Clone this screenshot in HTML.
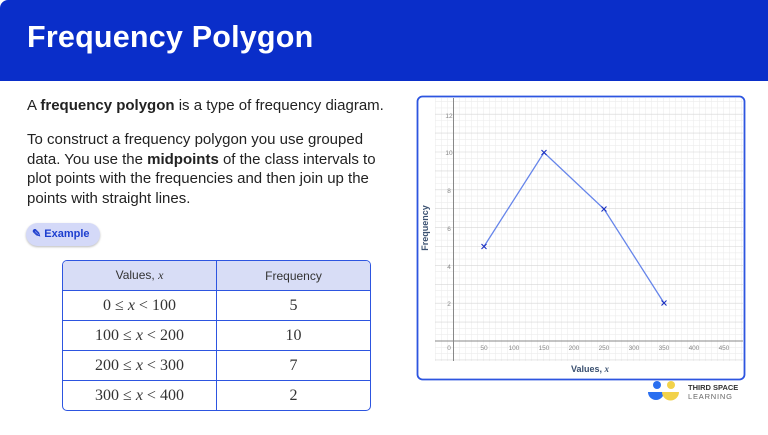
<!DOCTYPE html>
<html><head><meta charset="utf-8"><style>
body{margin:0;width:768px;height:435px;background:#fff;position:relative;overflow:hidden;font-family:"Liberation Sans",sans-serif;color:#222}
.hdr{position:absolute;left:0;top:0;width:768px;height:81px;background:#0a2ec9;border-top-left-radius:8px}
.hdr h1{position:absolute;left:27px;top:20px;margin:0;color:#fff;font-size:30.5px;font-weight:bold;letter-spacing:0.2px}
.p{position:absolute;left:27px;font-size:15px;line-height:19.5px;color:#222;width:362px}
.ex{position:absolute;left:26px;top:223px;width:74px;height:23px;background:#d4d9f8;border-radius:12px;color:#1e3fcf;font-size:11px;font-weight:bold;line-height:23px;box-shadow:0 1px 2px #bbb}
table{position:absolute;left:62px;top:260px;border-collapse:separate;border-spacing:0;border:1.5px solid #2d55e0;border-radius:5px;overflow:hidden}
td{height:29px;padding:0;text-align:center;border-right:1px solid #2d55e0;border-bottom:1px solid #2d55e0;font-family:"Liberation Serif",serif;font-size:16px;color:#333}
td:first-child{width:153px}td:last-child{width:153px}
tr td:last-child{border-right:none}tr:last-child td{border-bottom:none}
tr:first-child td{background:#d8ddf6;font-family:"Liberation Sans",sans-serif;font-size:12px}
</style></head><body>
<div class="hdr"><h1>Frequency Polygon</h1></div>
<div class="p" style="top:96px;width:400px">A <b>frequency polygon</b> is a type of frequency diagram.</div>
<div class="p" style="top:130px">To construct a frequency polygon you use grouped data. You use the <b>midpoints</b> of the class intervals to plot points with the frequencies and then join up the points with straight lines.</div>
<div class="ex"><span style="margin-left:6px">✎</span> Example</div>
<table>
<tr><td>Values, <i style="font-family:'Liberation Serif'">x</i></td><td>Frequency</td></tr>
<tr><td>0 ≤ <i>x</i> &lt; 100</td><td>5</td></tr>
<tr><td>100 ≤ <i>x</i> &lt; 200</td><td>10</td></tr>
<tr><td>200 ≤ <i>x</i> &lt; 300</td><td>7</td></tr>
<tr><td>300 ≤ <i>x</i> &lt; 400</td><td>2</td></tr>
</table>
<svg style="position:absolute;left:0;top:0" width="768" height="435">
<defs><clipPath id="c"><rect x="435" y="98" width="308" height="263"/></clipPath></defs>
<g clip-path="url(#c)" stroke="#e3e3e3" stroke-width="0.6">
<g id="vx"></g>
</g>
<rect x="417.5" y="96.5" width="327" height="283" rx="5" fill="none" stroke="#2d55e0" stroke-width="1.8"/>
<line x1="453.5" y1="98" x2="453.5" y2="361" stroke="#888" stroke-width="1"/>
<line x1="435" y1="341" x2="743" y2="341" stroke="#888" stroke-width="1"/>
<g font-size="6.5" fill="#888" text-anchor="middle" font-family="Liberation Sans">
<text x="449" y="350">0</text><text x="484" y="350">50</text><text x="514" y="350">100</text><text x="544" y="350">150</text><text x="574" y="350">200</text><text x="604" y="350">250</text><text x="634" y="350">300</text><text x="664" y="350">350</text><text x="694" y="350">400</text><text x="724" y="350">450</text>
<text x="449" y="118">12</text><text x="449" y="155">10</text><text x="449" y="193">8</text><text x="449" y="231">6</text><text x="449" y="269">4</text><text x="449" y="306">2</text>
</g>
<text x="590" y="372" font-size="9" fill="#3a5070" text-anchor="middle" font-weight="bold">Values, <tspan font-style="italic" font-family="Liberation Serif">x</tspan></text>
<text transform="translate(428,228) rotate(-90)" font-size="9" fill="#3a5070" text-anchor="middle" font-weight="bold">Frequency</text>
<polyline points="484,246.5 544,152.5 604,209 664,303" fill="none" stroke="#6685ea" stroke-width="1.3"/>
<g stroke="#1a2fc0" stroke-width="1.1">
<path d="M481.5,244 l5,5 m0,-5 l-5,5"/><path d="M541.5,150 l5,5 m0,-5 l-5,5"/><path d="M601.5,206.5 l5,5 m0,-5 l-5,5"/><path d="M661.5,300.5 l5,5 m0,-5 l-5,5"/>
</g>
<circle cx="657" cy="385" r="4" fill="#2a6ff0"/><circle cx="671" cy="385" r="4" fill="#f2d24a"/>
<path d="M648,392 a8,8 0 0 0 16,0 z" fill="#2a6ff0"/><path d="M662,392 a8,8 0 0 0 17,0 z" fill="#f2d24a"/>
<text x="688" y="390" font-size="7.5" font-weight="bold" fill="#333">THIRD SPACE</text>
<text x="688" y="399" font-size="7.5" fill="#666" letter-spacing="0.8">LEARNING</text>
</svg>
<script>
var g=document.getElementById('vx'),s='';
for(var x=435;x<=743;x+=6)s+='<line x1="'+(x+0.5)+'" y1="98" x2="'+(x+0.5)+'" y2="361" stroke="'+(((x-454+600)%30)<1?'#d6d6d6':'#ececec')+'"/>';
for(var i=-4;i<=40;i++){var y=341-i*6.3;s+='<line x1="435" y1="'+y+'" x2="743" y2="'+y+'" stroke="'+(i%3==0?'#d6d6d6':'#ececec')+'"/>';}
g.innerHTML=s;
</script>
</body></html>
